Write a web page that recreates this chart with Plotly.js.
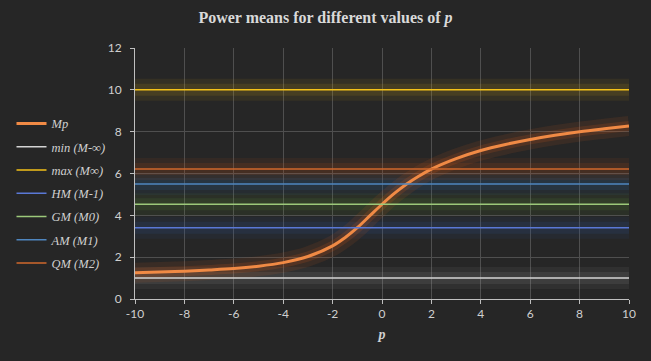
<!DOCTYPE html>
<html>
<head>
<meta charset="utf-8">
<script src="https://cdn.plot.ly/plotly-3.0.1.min.js"></script>
<style>
html,body{margin:0;padding:0;background:#262626;}
#chart{width:651px;height:361px;}
</style>
</head>
<body>
<div id="chart"></div>
<script>
// p values and the power mean curve Mp
const pValues = [-10,-9,-8,-7,-6,-5,-4,-3,-2,-1.5,-1,-0.5,0,0.5,1,1.5,2,3,4,5,6,7,8,9,10];
const mpValues = [1.26,1.29,1.33,1.39,1.46,1.57,1.74,2.03,2.54,2.93,3.41,3.97,4.53,5.05,5.50,5.88,6.21,6.71,7.10,7.39,7.63,7.83,8.00,8.14,8.27];

// constant means (horizontal lines)
const meanNames = ["min (M-∞)","max (M∞)","HM (M-1)","GM (M0)","AM (M1)","QM (M2)"];
const meanValues = [1, 10, 3.41, 4.53, 5.50, 6.21];
const meanColors = ["#d4d4d4","#f5c218","#5a78d6","#9cc97a","#4f86bf","#d0692c"];
const glowColors = ["#9a9a9a","#c9a016","#2f5aa8","#5f9a3a","#2f6aa8","#c0521a"];

// tick labels (hyphen minus as in the original)
const xTickVals = [-10,-8,-6,-4,-2,0,2,4,6,8,10];
const xTickText = ["-10","-8","-6","-4","-2","0","2","4","6","8","10"];

const xRange = [-10, 10];
const traces = [];

// glow layers for the horizontal lines
meanValues.forEach((v,i)=>{
  [[22,0.09],[12,0.13]].forEach(([w,o])=>{
    traces.push({x:xRange,y:[v,v],mode:'lines',hoverinfo:'skip',showlegend:false,
      line:{color:glowColors[i],width:w},opacity:o});
  });
});
// glow for Mp
[[20,0.10],[10,0.16]].forEach(([w,o])=>{
  traces.push({x:pValues,y:mpValues,mode:'lines',hoverinfo:'skip',showlegend:false,
    line:{color:'#e0601a',width:w,shape:'spline'},opacity:o});
});

// main Mp trace
traces.push({x:pValues,y:mpValues,mode:'lines',name:'<i>Mp</i>',legendgroup:'g0',
  line:{color:'#f08a45',width:3,shape:'spline'}});
meanValues.forEach((v,i)=>{
  traces.push({x:xRange,y:[v,v],mode:'lines',name:'<i>'+meanNames[i]+'</i>',legendgroup:'g'+(i+1),
    line:{color:meanColors[i],width:1.5}});
});

const layout = {
  width:651,height:361,
  paper_bgcolor:'#262626',plot_bgcolor:'#262626',
  margin:{l:129,r:22,t:48,b:62},
  title:{text:'<b>Power means for different values of <i>p</i></b>',
    font:{family:'Liberation Serif, DejaVu Serif, serif',size:16,color:'#d9d9d9'},
    x:0.5,xanchor:'center',y:0.952,yanchor:'middle'},
  xaxis:{range:[-10,10],tickmode:'array',tickvals:xTickVals,ticktext:xTickText,
    showgrid:true,gridcolor:'#4f4f4f',gridwidth:1,
    zeroline:false,showline:true,linecolor:'#bfbfbf',linewidth:1,
    ticks:'outside',ticklen:4,tickcolor:'#bfbfbf',
    tickfont:{family:'Lato, Open Sans, sans-serif',size:12,color:'#d0d0d0'},
    title:{text:'<b><i>p</i></b>',font:{family:'Liberation Serif, DejaVu Serif, serif',size:14,color:'#d0d0d0'},standoff:8}},
  yaxis:{range:[0,12],dtick:2,showgrid:true,gridcolor:'#4f4f4f',gridwidth:1,
    zeroline:false,showline:true,linecolor:'#bfbfbf',linewidth:1,
    ticks:'outside',ticklen:4,tickcolor:'#bfbfbf',ticklabelstandoff:6,
    tickfont:{family:'Lato, Open Sans, sans-serif',size:12,color:'#d0d0d0'}},
  legend:{x:-0.25,xanchor:'left',y:0.757,yanchor:'top',
    bgcolor:'rgba(0,0,0,0)',traceorder:'grouped',tracegroupgap:4,itemwidth:30,
    font:{family:'Liberation Serif, DejaVu Serif, serif',size:12.5,color:'#d0d0d0'}},
  showlegend:true
};

Plotly.newPlot('chart',traces,layout,{displayModeBar:false,staticPlot:true});
</script>
</body>
</html>
